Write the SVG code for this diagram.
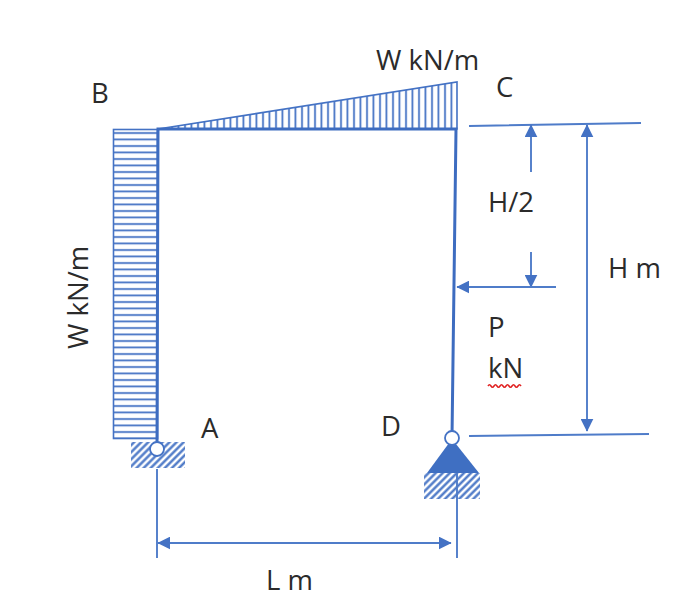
<svg xmlns="http://www.w3.org/2000/svg" width="687" height="607" viewBox="0 0 687 607">
<style>
text{font-family:"Open Sans","Noto Sans","Liberation Sans",sans-serif;font-size:27.5px;fill:#2b2b2b}
.b{stroke:#4472c4}
.t{stroke-width:1.6}
.m{stroke:#3d6cc0;stroke-width:3;fill:none}
.d{stroke:#4f7cc9;stroke-width:1.900;fill:none;marker-start:url(#a);marker-end:url(#a)}
.e{stroke:#4f7cc9;stroke-width:1.900;fill:none;marker-end:url(#a)}
.x{stroke:#4f7cc9;stroke-width:1.900;fill:none}
</style>
<defs>
<marker id="a" viewBox="0 0 10 10" refX="9.500" refY="5" markerWidth="13" markerHeight="13" markerUnits="userSpaceOnUse" orient="auto-start-reverse"><path d="M0 0L10 5L0 10Z" fill="#4472c4"/></marker>
<pattern id="h" width="6.500" height="6.500" patternUnits="userSpaceOnUse"><path d="M0 3H6.500" stroke="#4472c4" stroke-width="1.800"/></pattern>
<pattern id="v" width="6.500" height="6.500" patternUnits="userSpaceOnUse"><path d="M3 0V6.500" stroke="#4472c4" stroke-width="1.800"/></pattern>
<pattern id="s" width="5" height="5" patternUnits="userSpaceOnUse" patternTransform="rotate(45)"><path d="M2.500 0V5" stroke="#4472c4" stroke-width="2.300"/></pattern>
</defs>
<rect width="687" height="607" fill="#fff"/>
<g id="load-left"><rect x="113.500" y="129.500" width="44" height="309" fill="url(#h)" class="b t"/></g>
<g id="load-top"><path d="M158 129L457 82V129Z" fill="url(#v)" class="b t"/></g>
<g id="support-A"><rect x="131" y="442" width="54" height="26" fill="url(#s)"/></g>
<g id="support-D"><rect x="424" y="473" width="56" height="26" fill="url(#s)"/><path d="M427 473L452 439L479 473Z" fill="#3f6fc2"/></g>
<g id="frame">
<path class="m" d="M157 448L158 129H456L452 438"/>
<circle cx="157" cy="449" r="7" fill="#fff" stroke="#4472c4" stroke-width="1.800"/>
<circle cx="452" cy="438" r="7" fill="#fff" stroke="#4472c4" stroke-width="1.800"/>
</g>
<g id="connectors">
<path class="x" d="M157 469V558M457 473V558M469 126L641 123M469 436L649 434"/>
<path class="d" d="M158 543H451"/>
<path class="d" d="M587 125V431"/>
<path class="e" d="M531 172V125"/>
<path class="e" d="M531 252V287"/>
<path class="e" d="M556 287H457"/>
</g>
<g id="labels">
<text x="91" y="103">B</text>
<text x="376" y="70">W kN/m</text>
<text x="496" y="97">C</text>
<text x="488" y="212">H/2</text>
<text x="608" y="278">H m</text>
<text x="488" y="337">P</text>
<text x="488" y="378">kN</text>
<path d="M488 386q1.500 -2.500 3 0t3 0t3 0t3 0t3 0t3 0t3 0t3 0t3 0t3 0t3 0" stroke="#e02020" stroke-width="1.500" fill="none"/>
<text x="201" y="438">A</text>
<text x="381" y="436">D</text>
<text x="266" y="590">L m</text>
<text transform="translate(88 349) rotate(-90)">W kN/m</text>
</g>
</svg>
